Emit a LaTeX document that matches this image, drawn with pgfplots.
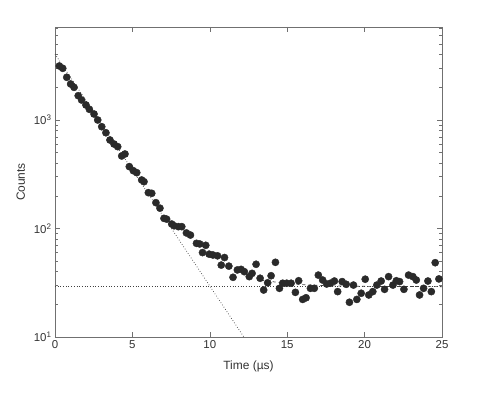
\documentclass[border=0pt]{standalone}
\usepackage{fontspec}
\setmainfont{Liberation Sans}
\usepackage{pgfplots}
\pgfplotsset{compat=1.18}
\definecolor{framegray}{HTML}{707070}
\definecolor{dotcol}{HTML}{2A2A2A}
\begin{document}
\begin{tikzpicture}
\begin{axis}[
  width=387bp, height=310bp, scale only axis,
  ymode=log, xmin=0, xmax=25, ymin=10, ymax=7200,
  axis line style={framegray, line width=0.7pt},
  every tick/.style={framegray, line width=0.6pt},
  tick align=inside,
  major tick length=5bp, minor tick length=3bp,
  xtick={0,5,10,15,20,25},
  xticklabels={0,5,10,15,20,25},
  ytick={10,100,1000},
  yticklabels={10\textsuperscript{1},10\textsuperscript{2},10\textsuperscript{3}},
  minor ytick={20,30,40,50,60,70,80,90,200,300,400,500,600,700,800,900,2000,3000,4000,5000,6000,7000},
  tick label style={font=\fontsize{11.5}{13}\selectfont, text=black!80},
  label style={font=\fontsize{12}{14}\selectfont, text=black!80},
  xlabel={Time (µs)}, ylabel={Counts},
  xlabel style={yshift=-5bp},
  ylabel style={yshift=2bp},
  clip=true,
]
% exponential fit (dotted)
\addplot[dotted, black!75, line width=0.7pt] coordinates {(0,4050) (12.2,10)};
% background level (dotted)
\addplot[dotted, black!75, line width=0.7pt] coordinates {(0,29) (25,29)};
% total fit (dashed)
\addplot[dashed, black!75, line width=0.7pt] coordinates {(13.3,33.5) (14,32.4) (15,31.2) (16,30.4) (17,29.9) (18,29.6) (20,29.3) (22,29.2) (25,29.1)};
% data
\addplot[only marks, mark=*, mark size=3.6bp, dotcol, mark options={draw=dotcol, fill=dotcol}] coordinates {
(0.28,3147) (0.50,2995) (0.76,2476) (1.01,2148) (1.23,2000) (1.50,1675) (1.72,1528)
(2.00,1375) (2.22,1255) (2.52,1136) (2.76,1000) (3.02,867) (3.29,763) (3.55,654)
(3.81,601) (4.05,568) (4.31,466) (4.52,486) (4.80,372) (5.06,341) (5.28,327)
(5.60,280) (5.75,270) (6.03,214) (6.25,211) (6.52,173) (6.78,154) (7.04,124)
(7.21,122) (7.54,110) (7.69,106) (7.97,104) (8.19,104) (8.49,91) (8.75,87)
(9.14,73) (9.35,72) (9.53,60) (9.74,70) (9.96,58) (10.20,57) (10.50,56)
(10.74,46) (10.95,54) (11.23,45) (11.50,35.5) (11.78,41.5) (12.02,42) (12.23,40)
(12.55,36) (12.73,38.6) (12.99,46.8) (13.25,34.8) (13.48,27.1) (13.74,31.6) (13.96,36.7)
(14.24,48.8) (14.50,28.1) (14.71,31.3) (14.97,31.3) (15.25,31.3) (15.53,25.8) (15.74,33)
(16.00,22.2) (16.22,23) (16.50,28.1) (16.75,28.1) (17.01,37.2) (17.29,33.5) (17.55,30.8)
(17.79,31.3) (18.05,32.8) (18.26,26.2) (18.55,32.4) (18.81,30.6) (19.02,20.9) (19.28,30.1)
(19.50,22.2) (19.78,25.3) (20.04,34.1) (20.27,24.4) (20.53,26.2) (20.79,30.1) (21.07,32.8)
(21.29,27.5) (21.55,36) (21.83,30.1) (22.05,33) (22.26,32.4) (22.54,27.5) (22.84,37.2)
(23.12,36) (23.34,33.5) (23.55,24.4) (23.81,28.1) (24.09,32.8) (24.31,26.2) (24.56,48.4)
(24.80,34.3)
};
\end{axis}
\path[use as bounding box] ([shift={(-55bp,-57bp)}]current axis.south west) rectangle ([shift={(35bp,27bp)}]current axis.north east);
\end{tikzpicture}
\end{document}
